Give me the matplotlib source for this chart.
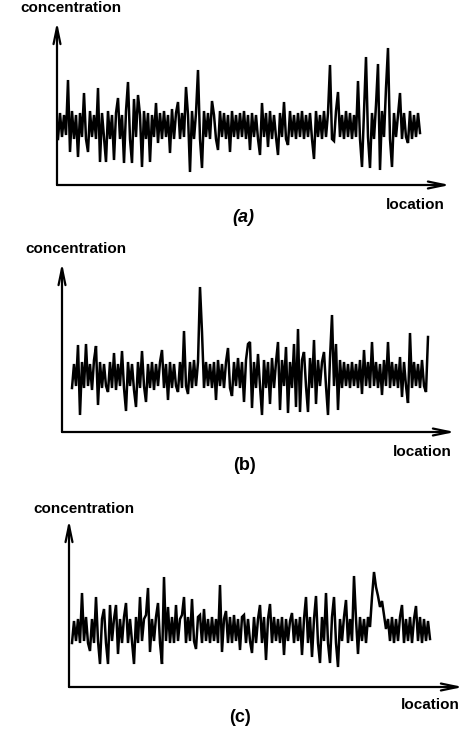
import numpy as np
import matplotlib.pyplot as plt

plt.rcParams['font.family'] = ['Liberation Sans', 'DejaVu Sans']

# concentration readings (arbitrary units, height above the location axis)
conc_a = [46, 72, 48, 70, 50, 105, 33, 74, 46, 70,
          28, 72, 48, 92, 46, 33, 74, 48, 70, 46,
          97, 23, 72, 48, 23, 74, 46, 70, 25, 72,
          87, 46, 70, 22, 74, 103, 46, 22, 86, 48,
          90, 70, 18, 74, 46, 72, 23, 70, 48, 82,
          42, 72, 46, 74, 48, 70, 32, 76, 46, 72,
          83, 46, 72, 48, 98, 70, 13, 74, 46, 72,
          115, 46, 17, 74, 48, 72, 46, 84, 70, 46,
          35, 74, 48, 72, 46, 70, 33, 74, 48, 70,
          46, 72, 48, 74, 46, 70, 35, 72, 48, 70,
          46, 30, 82, 48, 72, 38, 74, 46, 70, 48,
          30, 72, 48, 83, 46, 40, 74, 48, 70, 46,
          72, 48, 74, 46, 70, 48, 72, 46, 26, 74,
          48, 70, 46, 74, 48, 72, 120, 46, 44, 74,
          93, 48, 70, 46, 74, 48, 72, 46, 70, 48,
          104, 46, 18, 74, 128, 48, 17, 72, 46, 80,
          121, 15, 74, 48, 97, 137, 46, 18, 72, 48,
          70, 92, 46, 72, 48, 42, 74, 46, 70, 48,
          72, 52]

conc_b = [44, 68, 46, 87, 17, 70, 44, 88, 46, 68,
          42, 72, 86, 27, 70, 44, 68, 46, 40, 70,
          44, 79, 42, 68, 46, 81, 44, 21, 70, 46,
          68, 42, 25, 70, 44, 81, 46, 30, 68, 44,
          70, 42, 68, 46, 70, 82, 44, 68, 32, 70,
          44, 68, 46, 40, 70, 44, 101, 46, 38, 70,
          44, 72, 46, 70, 145, 100, 44, 70, 46, 68,
          44, 70, 32, 72, 46, 68, 44, 70, 84, 44,
          36, 70, 46, 74, 44, 70, 30, 72, 88, 90,
          24, 70, 44, 78, 46, 17, 72, 44, 70, 28,
          74, 44, 70, 90, 22, 72, 46, 85, 19, 70,
          44, 88, 25, 103, 20, 72, 80, 46, 20, 74,
          44, 92, 28, 72, 46, 70, 80, 46, 17, 74,
          117, 46, 88, 22, 72, 44, 70, 46, 68, 44,
          70, 46, 68, 44, 72, 38, 82, 46, 70, 44,
          90, 46, 70, 44, 68, 37, 72, 46, 90, 44,
          70, 46, 68, 44, 75, 35, 70, 46, 29, 99,
          44, 70, 46, 68, 44, 72, 46, 40, 95]

conc_c = [44, 66, 46, 68, 44, 94, 46, 70, 44, 36,
          68, 44, 90, 46, 23, 68, 78, 44, 23, 82,
          46, 68, 82, 33, 68, 44, 70, 84, 44, 68,
          46, 23, 70, 44, 90, 46, 68, 72, 99, 35,
          68, 46, 70, 84, 44, 23, 110, 46, 80, 44,
          70, 44, 82, 46, 68, 72, 90, 44, 70, 46,
          88, 46, 38, 70, 72, 44, 78, 46, 68, 44,
          70, 46, 68, 44, 102, 35, 68, 76, 44, 70,
          44, 72, 46, 68, 37, 70, 72, 44, 68, 46,
          34, 70, 44, 68, 82, 44, 70, 27, 68, 83,
          44, 70, 46, 68, 44, 70, 32, 68, 46, 66,
          74, 44, 68, 46, 70, 32, 68, 90, 44, 70,
          30, 68, 91, 44, 24, 70, 46, 94, 44, 24,
          70, 90, 44, 20, 68, 46, 70, 87, 44, 68,
          46, 111, 68, 33, 70, 46, 68, 44, 70, 60,
          90, 115, 100, 91, 80, 86, 72, 58, 68, 46,
          70, 44, 68, 46, 70, 82, 44, 68, 46, 70,
          44, 68, 81, 46, 70, 44, 68, 46, 66, 48]

series = [conc_a, conc_b, conc_c]
panel_labels = ['(a)', '(b)', '(c)']
y_label = 'concentration'
x_label = 'location'

W, H = 472, 732
fig = plt.figure(figsize=(W / 100, H / 100), dpi=100)

# layout in pixels: y-axis x, x-axis y, axis top y, arrow tip x, first sample x
boxes = [(57, 185, 22, 450, 58),
         (62, 432, 263, 455, 72),
         (69, 687, 520, 463, 72)]
# text anchors in pixels
ylab_pos = [(20, 8), (25, 249), (33, 509)]
xlab_pos = [(445, 205), (452, 452), (460, 705)]
tag_pos = [(243, 217), (245, 465), (240, 718)]
step = 2.0  # pixels per sample

for k, y in enumerate(series):
    ax_x, ax_y, top, tip, x0 = boxes[k]
    ax = fig.add_axes([ax_x / W, 1 - ax_y / H, (tip - ax_x) / W, (ax_y - top) / H])
    loc = np.arange(len(y))
    ax.plot(loc, y, color='black', lw=1.8, solid_joinstyle='miter')
    ax.set_xlim(-(x0 - ax_x) / step, (tip - x0) / step)
    ax.set_ylim(0, ax_y - top)
    ax.axis('off')
    ax.annotate('', xy=(0, 1), xytext=(0, 0), xycoords='axes fraction',
                arrowprops=dict(arrowstyle='->,head_length=1.2,head_width=0.25',
                                lw=1.6, color='black', shrinkA=0, shrinkB=0))
    ax.annotate('', xy=(1, 0), xytext=(0, 0), xycoords='axes fraction',
                arrowprops=dict(arrowstyle='->,head_length=1.2,head_width=0.25',
                                lw=1.6, color='black', shrinkA=0, shrinkB=0))

    fig.text(ylab_pos[k][0] / W, 1 - ylab_pos[k][1] / H, y_label,
             fontsize=11, ha='left', va='center', fontweight='bold')
    fig.text(xlab_pos[k][0] / W, 1 - xlab_pos[k][1] / H, x_label,
             fontsize=11, ha='right', va='center', fontweight='bold')
    fig.text(tag_pos[k][0] / W, 1 - tag_pos[k][1] / H, panel_labels[k],
             fontsize=13, ha='center', va='center', fontweight='bold',
             style='italic' if k == 0 else 'normal')

fig.savefig('out.png', dpi=100)
